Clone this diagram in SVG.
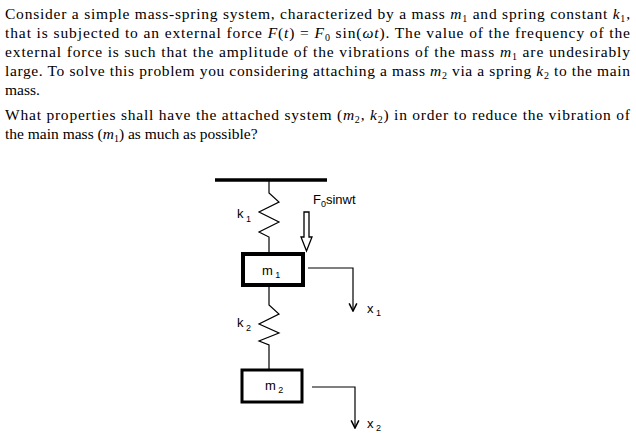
<svg xmlns="http://www.w3.org/2000/svg" width="636" height="439" viewBox="0 0 636 439">
<style>
.t{font-family:"Liberation Serif",serif;font-size:15.5px;fill:#000}
.l{font-family:"Liberation Sans",Arial,sans-serif;font-size:13px;fill:#000}
.s{font-size:9px}
.w{fill:none;stroke:#000;stroke-width:1.2}
.box{fill:#fff;stroke:#000}
</style>
<defs><marker id="ah" viewBox="0 0 10 10" refX="9" refY="5" markerWidth="8" markerHeight="8" orient="auto"><path d="M1,1 L9,5 L1,9" fill="none" stroke="#000" stroke-width="1.6"/></marker></defs>
<rect width="636" height="439" fill="#fff"/>
<g id="text">
<text class="t" x="5" y="19" textLength="625" lengthAdjust="spacing">Consider a simple mass-spring system, characterized by a mass <tspan font-style="italic">m</tspan><tspan font-size="10" dy="3">1</tspan><tspan dy="-3"> and spring constant </tspan><tspan font-style="italic">k</tspan><tspan font-size="10" dy="3">1</tspan><tspan dy="-3">,</tspan></text>
<text class="t" x="5" y="38" textLength="625" lengthAdjust="spacing">that is subjected to an external force <tspan font-style="italic">F</tspan>(<tspan font-style="italic">t</tspan>) = <tspan font-style="italic">F</tspan><tspan font-size="10" dy="3">0</tspan><tspan dy="-3"> sin(</tspan><tspan font-style="italic">ωt</tspan>). The value of the frequency of the</text>
<text class="t" x="5" y="57" textLength="625" lengthAdjust="spacing">external force is such that the amplitude of the vibrations of the mass <tspan font-style="italic">m</tspan><tspan font-size="10" dy="3">1</tspan><tspan dy="-3"> are undesirably</tspan></text>
<text class="t" x="5" y="76" textLength="625" lengthAdjust="spacing">large. To solve this problem you considering attaching a mass <tspan font-style="italic">m</tspan><tspan font-size="10" dy="3">2</tspan><tspan dy="-3"> via a spring </tspan><tspan font-style="italic">k</tspan><tspan font-size="10" dy="3">2</tspan><tspan dy="-3"> to the main</tspan></text>
<text class="t" x="5" y="95">mass.</text>
<text class="t" x="5" y="120" textLength="625" lengthAdjust="spacing">What properties shall have the attached system (<tspan font-style="italic">m</tspan><tspan font-size="10" dy="3">2</tspan><tspan dy="-3">, </tspan><tspan font-style="italic">k</tspan><tspan font-size="10" dy="3">2</tspan><tspan dy="-3">) in order to reduce the vibration of</tspan></text>
<text class="t" x="5" y="139">the main mass (<tspan font-style="italic">m</tspan><tspan font-size="10" dy="3">1</tspan><tspan dy="-3">) as much as possible?</tspan></text>
</g>
<g id="connectors">
<line x1="215" y1="180" x2="327" y2="180" stroke="#000" stroke-width="3.5"/>
<polyline class="w" points="269,180 269,193 279,202 259,212 279,222 259,232 269,237 269,252"/>
<polyline class="w" points="269,285 269,305 279,314 259,324 279,333 259,341 269,345 269,369"/>
<polyline class="w" points="308,268 353,268 353,311" marker-end="url(#ah)"/>
<polyline class="w" points="312,387 355,387 355,428" marker-end="url(#ah)"/>
<path d="M304,212 h5 v25 h3 l-5.5,14 l-5.5,-14 h3 z" fill="#fff" stroke="#000" stroke-width="1.3"/>
</g>
<g id="m1"><rect class="box" x="243" y="254" width="60" height="31" stroke-width="4"/><text class="l" x="262" y="275">m<tspan class="s" dy="3"> 1</tspan></text></g>
<g id="m2"><rect class="box" x="242" y="370" width="60" height="32" stroke-width="3"/><text class="l" x="265" y="390">m<tspan class="s" dy="3"> 2</tspan></text></g>
<g id="labels">
<text class="l" x="237" y="218">k<tspan class="s" dy="4"> 1</tspan></text>
<text class="l" x="237" y="327">k<tspan class="s" dy="4"> 2</tspan></text>
<text class="l" x="313" y="204">F<tspan class="s" dy="3">0</tspan><tspan dy="-3">sinwt</tspan></text>
<text class="l" x="367" y="313">x<tspan class="s" dy="3"> 1</tspan></text>
<text class="l" x="367" y="428">x<tspan class="s" dy="3"> 2</tspan></text>
</g>
</svg>
